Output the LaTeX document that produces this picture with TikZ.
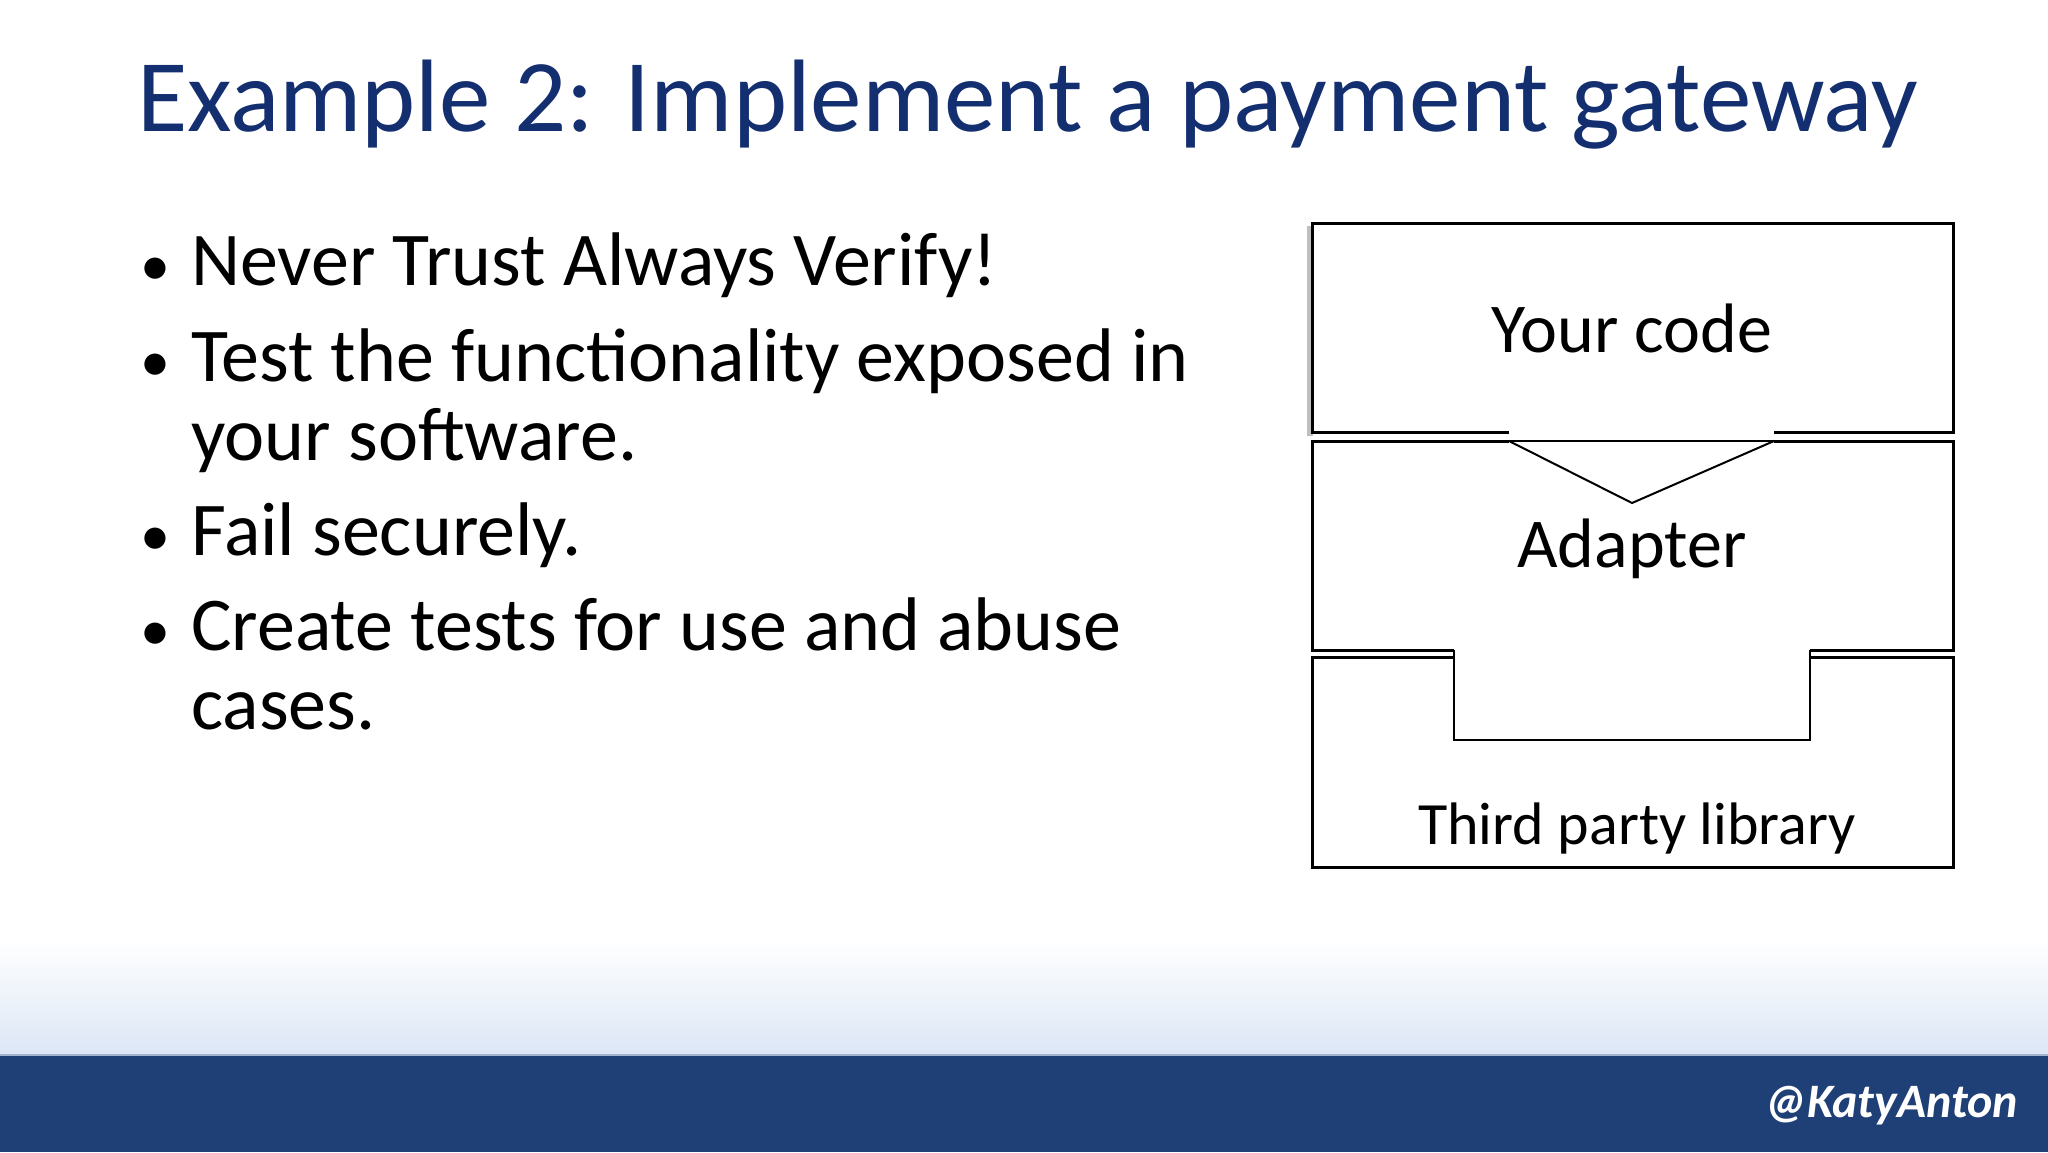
\documentclass[tikz,border=0pt]{standalone}
\usepackage{fontspec}
\setmainfont{Carlito}
\definecolor{titleblue}{HTML}{132F70}
\definecolor{barblue}{HTML}{1F3F77}
\definecolor{paleblue}{HTML}{DCE6F5}
\tikzset{
  box/.style={draw=black,line width=3pt},
  thin/.style={draw=black,line width=2pt},
  bul/.style={anchor=base west,font=\fontsize{76}{90}\selectfont,text=black,inner sep=0},
  lbl/.style={anchor=base,inner sep=0,text=black}
}
\begin{document}
\begin{tikzpicture}[x=1pt,y=-1pt]
\useasboundingbox (0,0) rectangle (2048,1152);
\fill[white] (0,0) rectangle (2048,940);
\shade[top color=white,bottom color=paleblue] (0,940) rectangle (2048,1055);
\fill[barblue] (0,1055) rectangle (2048,1152);
\draw[color=paleblue!70!barblue,line width=2pt] (0,1055) -- (2048,1055);
\node[anchor=base east,inner sep=0,text=white,font=\fontsize{48}{56}\selectfont\bfseries\itshape] (handle) at (2018,1117) {@KatyAnton};
\node[anchor=base west,inner sep=0,text=titleblue,font=\fontsize{103}{120}\selectfont] (title) at (137,131) {Example 2: Implement a payment gateway};
% bullets
\foreach \y/\t [count=\i] in {285/Never Trust Always Verify!,381/Test the functionality exposed in,555/Fail securely.,650/Create tests for use and abuse}{
  \node[bul] (b\i) at (191,\y) {\t};
  \node[anchor=base,inner sep=0,font=\fontsize{60}{70}\selectfont] (d\i) at (155,\y) {\textbullet};
}
\node[bul] (b2b) at (191,460) {your software.};
\node[bul] (b4b) at (191,729) {cases.};
% diagram
\fill[black!25] (1307,226) rectangle (1313,436);
\coordinate (n1) at (1509,441); \coordinate (n2) at (1774,441); \coordinate (nv) at (1632,503);
\draw[box] (1509,432) -- (1312,432) -- (1312,223) -- (1953,223) -- (1953,432) -- (1774,432);
\draw[box] (1509,441) -- (1312,441) -- (1312,650) -- (1454,650);
\draw[box] (1774,441) -- (1953,441) -- (1953,650) -- (1810,650);
\draw[thin] (n1) -- (n2);
\draw[thin] (n1) -- (nv) -- (n2);
\draw[box] (1454,657) -- (1312,657) -- (1312,867) -- (1953,867) -- (1953,657) -- (1810,657);
\draw[thin] (1454,650) -- (1454,740) -- (1810,740) -- (1810,650);
\node[lbl,font=\fontsize{70}{80}\selectfont] (yc) at (1632,352) {Your code};
\node[lbl,font=\fontsize{70}{80}\selectfont] (ad) at (1632,567) {Adapter};
\node[lbl,font=\fontsize{60}{70}\selectfont] (tp) at (1637,844) {Third party library};
\end{tikzpicture}
\end{document}
